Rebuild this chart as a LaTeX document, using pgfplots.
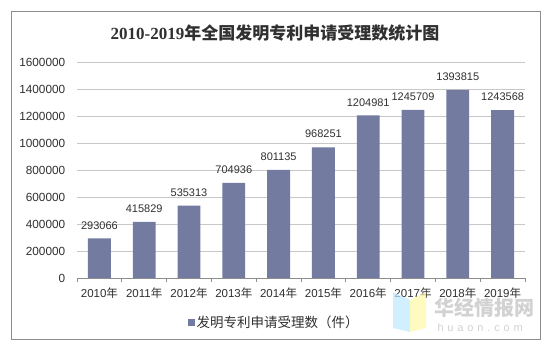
\documentclass[border=0pt]{standalone}
\usepackage{pgfplots}
\pgfplotsset{compat=1.18}
\usepackage{fontspec}
\setmainfont{Liberation Sans}
\newfontfamily\cjk{Noto Sans CJK SC}
\newfontfamily\titleserif{Liberation Serif}
\newfontfamily\wmfont[LetterSpace=35]{Liberation Sans}
\definecolor{barcol}{HTML}{737CA0}
\definecolor{txt}{HTML}{303030}
\definecolor{gridc}{HTML}{C8C8C8}
\definecolor{framec}{HTML}{8C8C8C}
\begin{document}
\begin{tikzpicture}[x=1pt,y=1pt]
\useasboundingbox (0,0) rectangle (551,350);
\fill[white] (0,0) rectangle (551,350);
\draw[framec,line width=1pt] (11,10) rectangle (540,338);
\node[text=txt] at (275,317) {\fontsize{17}{20}\selectfont\bfseries\titleserif 2010-2019{\cjk 年全国发明专利申请受理数统计图}};
\begin{axis}[
  at={(77pt,72pt)}, anchor=south west,
  scale only axis, width=448pt, height=216pt,
  xmin=-0.5, xmax=9.5, ymin=0, ymax=1600000,
  ybar, bar width=0.51,
  axis x line*=bottom, axis y line*=left,
  y axis line style={draw=none},
  x axis line style={draw=gridc!70!black, line width=0.8pt},
  xtick={0,...,9},
  xticklabels={2010{\cjk 年},2011{\cjk 年},2012{\cjk 年},2013{\cjk 年},2014{\cjk 年},2015{\cjk 年},2016{\cjk 年},2017{\cjk 年},2018{\cjk 年},2019{\cjk 年}},
  minor xtick={-0.5,0.5,...,9.5},
  major x tick style={draw=none},
  minor x tick style={draw=gridc!70!black, line width=0.8pt},
  minor tick length=4pt,
  tick align=outside,
  ytick={0,200000,...,1600000},
  major y tick style={draw=none},
  scaled y ticks=false,
  yticklabel style={/pgf/number format/fixed, /pgf/number format/1000 sep={}, font=\fontsize{11.8}{13}\selectfont, text=txt, xshift=-4pt},
  xticklabel style={font=\fontsize{11.5}{13}\selectfont, text=txt, yshift=-2pt},
  /pgf/number format/assume math mode=true,
  ymajorgrids, grid style={gridc, line width=0.8pt},
  nodes near coords,
  nodes near coords style={font=\fontsize{11}{13}\selectfont, text=txt, /pgf/number format/fixed, /pgf/number format/1000 sep={}, anchor=south, inner sep=0pt, yshift=9pt},
  legend style={at={(0.44,-0.204)}, anchor=center, draw=none, fill=none, font=\fontsize{13.5}{15}\selectfont\cjk, text=txt},
  legend image code/.code={\fill[barcol] (0pt,-3.5pt) rectangle (7pt,3.5pt);},
  clip=false,
]
\addplot[fill=barcol, draw=none] coordinates {
(0,293066) (1,415829) (2,535313) (3,704936) (4,801135)
(5,968251) (6,1204981) (7,1245709) (8,1393815) (9,1243568)};
\addlegendentry{发明专利申请受理数（件）}
\end{axis}
% watermark
\begin{scope}[opacity=0.7]
\fill[blue!35!cyan!25] (393,58) -- (410,50) -- (410,18) -- (393,22) -- cycle;
\fill[yellow!35] (410,50) -- (426,58) -- (426,22) -- (410,18) -- cycle;
\node[anchor=west, text=black!25] at (431,42) {\fontsize{20}{21}\selectfont\bfseries\cjk 华经情报网};
\node[anchor=west, text=black!25] at (434,22) {\fontsize{11}{12}\selectfont\wmfont huaon.com};
\end{scope}
\end{tikzpicture}
\end{document}
